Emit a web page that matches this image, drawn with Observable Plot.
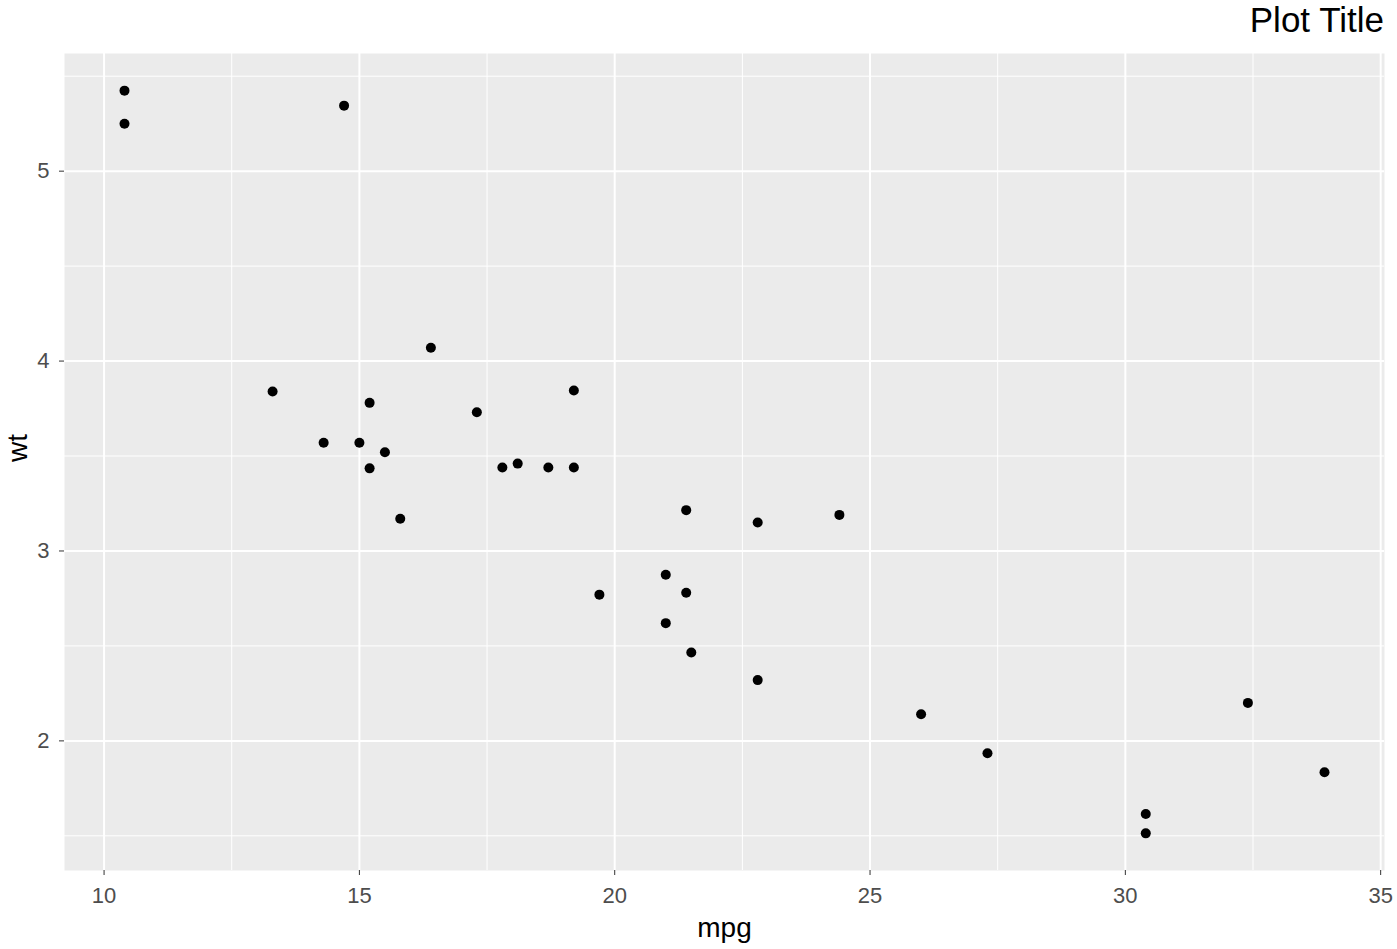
<!DOCTYPE html>
<html>
<head>
<meta charset="utf-8">
<script src="https://cdn.jsdelivr.net/npm/d3@7"></script>
<script src="https://cdn.jsdelivr.net/npm/@observablehq/plot@0.6"></script>
<style>
  body { margin: 0; background: white; font-family: "Liberation Sans", Arial, sans-serif; }
  #title { height: 45px; line-height: 40px; text-align: right; padding-right: 13px; font-size: 35px; color: #000; width: 1384px; }
</style>
</head>
<body>
<div id="title">Plot Title</div>
<div id="chart"></div>
<script>
const mpg = [21.0, 21.0, 22.8, 21.4, 18.7, 18.1, 14.3, 24.4, 22.8, 19.2, 17.8, 16.4, 17.3, 15.2, 10.4, 10.4, 14.7, 32.4, 30.4, 33.9, 21.5, 15.5, 15.2, 13.3, 19.2, 27.3, 26.0, 30.4, 15.8, 19.7, 15.0, 21.4];
const wt = [2.620, 2.875, 2.320, 3.215, 3.440, 3.460, 3.570, 3.190, 3.150, 3.440, 3.440, 4.070, 3.730, 3.780, 5.250, 5.424, 5.345, 2.200, 1.615, 1.835, 2.465, 3.520, 3.435, 3.840, 3.845, 1.935, 2.140, 1.513, 3.170, 2.770, 3.570, 2.780];
const xMajor = [10, 15, 20, 25, 30, 35];
const xMinor = [12.5, 17.5, 22.5, 27.5, 32.5];
const yMajor = [2, 3, 4, 5];
const yMinor = [1.5, 2.5, 3.5, 4.5, 5.5];
const xTitle = ["mpg"];
const yTitle = ["wt"];

const data = mpg.map((m, i) => ({mpg: m, wt: wt[i]}));
const xr = d3.extent(mpg), yr = d3.extent(wt);
const xPad = (xr[1] - xr[0]) * 0.05, yPad = (yr[1] - yr[0]) * 0.05;

const chart = Plot.plot({
  width: 1397,
  height: 904,
  marginLeft: 64,
  marginRight: 13,
  marginTop: 8,
  marginBottom: 79,
  style: {fontFamily: "Liberation Sans, Arial, sans-serif", fontSize: "22px", color: "#4D4D4D", background: "white"},
  x: {domain: [xr[0] - xPad, xr[1] + xPad]},
  y: {domain: [yr[0] - yPad, yr[1] + yPad]},
  marks: [
    Plot.frame({fill: "#EBEBEB", stroke: null}),
    Plot.ruleX(xMinor, {stroke: "white", strokeWidth: 1}),
    Plot.ruleY(yMinor, {stroke: "white", strokeWidth: 1}),
    Plot.ruleX(xMajor, {stroke: "white", strokeWidth: 2}),
    Plot.ruleY(yMajor, {stroke: "white", strokeWidth: 2}),
    Plot.axisX({ticks: xMajor, tickFormat: d3.format("d"), tickSize: 5, tickPadding: 12, stroke: "#333333", fill: "#4D4D4D", label: null, fontSize: 22}),
    Plot.axisY({ticks: yMajor, tickFormat: d3.format("d"), tickSize: 5, tickPadding: 10, stroke: "#333333", fill: "#4D4D4D", label: null, fontSize: 22}),
    Plot.dot(data, {x: "mpg", y: "wt", r: 5, fill: "black", stroke: null}),
    Plot.text(xTitle, {frameAnchor: "bottom", dy: 66, fontSize: 28, fill: "black", text: d => d}),
    Plot.text(yTitle, {frameAnchor: "left", dx: -46, rotate: -90, fontSize: 28, fill: "black", text: d => d})
  ]
});
document.getElementById("chart").appendChild(chart);
</script>
</body>
</html>
